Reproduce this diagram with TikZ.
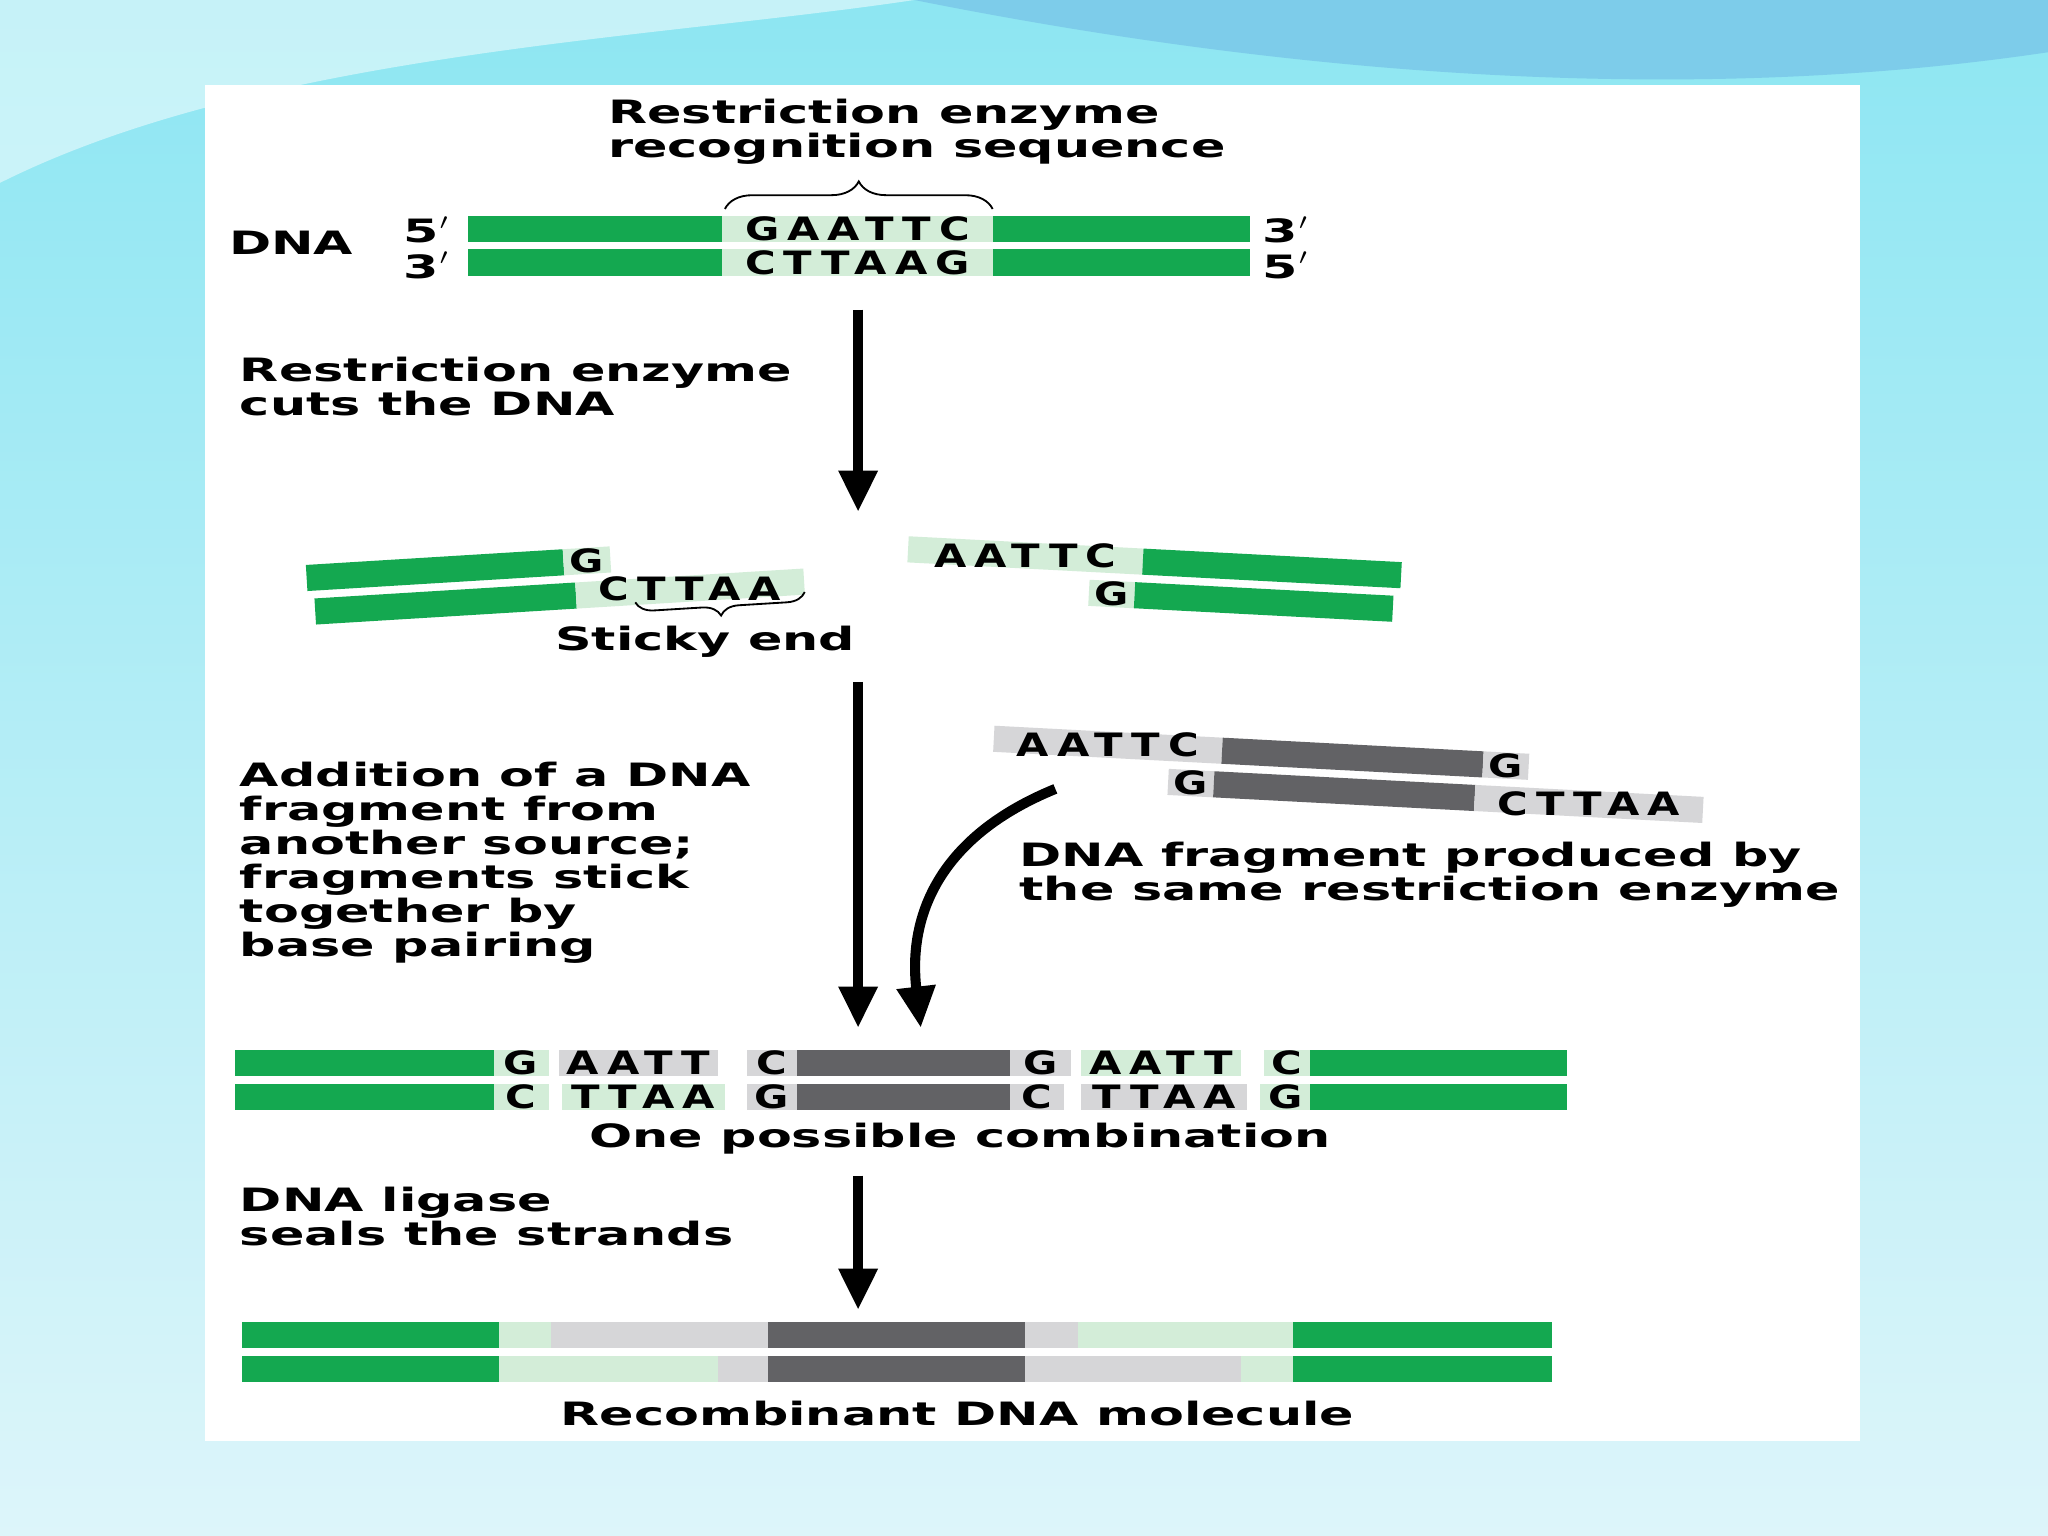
\documentclass[tikz,border=0pt]{standalone}
\usepackage{fontspec}
\setmainfont{DejaVu Sans}[FakeStretch=1.58]
\newfontfamily\seqfont{DejaVu Sans}[FakeStretch=1.3,LetterSpace=25]
\usetikzlibrary{arrows.meta,decorations.pathreplacing}
\definecolor{dgreen}{HTML}{14A850}
\definecolor{lgreen}{HTML}{D3EDD8}
\definecolor{lgray}{HTML}{D6D6D8}
\definecolor{dgray}{HTML}{626265}
\definecolor{bgtop}{HTML}{8DE6F2}
\definecolor{bgbot}{HTML}{DDF5FA}
\definecolor{wave}{HTML}{7DCCEA}
\tikzset{
  lab/.style={font=\bfseries\fontsize{7}{7.4}\selectfont, inner sep=0pt, align=left},
  seqtxt/.style={font=\seqfont\bfseries\fontsize{7}{7}\selectfont, inner sep=0pt},
  stage/.style={line width=2.2pt, -{Triangle[length=9pt,width=8pt]}},
}
% segment: x1 y x2 colour
\newcommand\seg[4]{\fill[#4] (#1,#2) rectangle (#3,{#2+20});}
% letter box: x1 y x2 colour text
\newcommand\lbox[5]{\fill[#4] (#1,#2) rectangle (#3,{#2+20});
  \node[seqtxt] at ({(#1+#3)/2},{#2+10}) {#5};}
\begin{document}
\begin{tikzpicture}[x=0.01cm,y=-0.01cm]
\useasboundingbox (0,0) rectangle (1568,1176);
% background
\shade[top color=bgtop,bottom color=bgbot] (0,0) rectangle (1568,1176);
\fill[white,opacity=.5] (0,140) .. controls (200,40) and (500,30) .. (700,0) -- (0,0) -- cycle;
\fill[wave] (700,0) .. controls (1000,60) and (1300,80) .. (1568,40) -- (1568,0) -- cycle;
\fill[white] (157,65) rectangle (1424,1103);

% top: recognition sequence
\node[lab,align=left] (title) at (702,101) {Restriction enzyme\\recognition sequence};
\draw[decorate,decoration={brace,amplitude=6pt}] (555,160) -- (760,160);
\node[lab] (dna) at (223,186) {DNA};
\node[lab] (p5a) at (327,176) {5$'$};
\node[lab] (p3a) at (327,203) {3$'$};
\node[lab] (p3b) at (985,176) {3$'$};
\node[lab] (p5b) at (985,203) {5$'$};
\seg{358}{165}{553}{dgreen}
\lbox{553}{165}{760}{lgreen}{GAATTC}
\seg{760}{165}{957}{dgreen}
\seg{358}{191}{553}{dgreen}
\lbox{553}{191}{760}{lgreen}{CTTAAG}
\seg{760}{191}{957}{dgreen}

\coordinate (a1s) at (657,237);
\coordinate (a1e) at (657,392);
\draw[stage] (a1s) -- (a1e);
\node[lab,anchor=north west] (cut) at (183,273) {Restriction enzyme\\cuts the DNA};

% cut fragments
\begin{scope}[rotate around={3.5:(440,440)}]
\seg{235}{420}{432}{dgreen}
\lbox{432}{420}{468}{lgreen}{G}
\seg{240}{446}{440}{dgreen}
\lbox{440}{446}{615}{lgreen}{CTTAA}
\draw[decorate,decoration={brace,amplitude=4pt,mirror}] (485,464) -- (615,464);
\end{scope}
\node[lab] (sticky) at (540,491) {Sticky end};
\begin{scope}[rotate around={-3:(875,430)}]
\lbox{695}{420}{875}{lgreen}{AATTC}
\seg{875}{420}{1073}{dgreen}
\lbox{835}{446}{870}{lgreen}{G}
\seg{870}{446}{1068}{dgreen}
\end{scope}

\coordinate (a2s) at (657,522);
\coordinate (a2e) at (657,787);
\draw[stage] (a2s) -- (a2e);
\node[lab,anchor=north west] (add) at (183,583) {Addition of a DNA\\fragment from\\another source;\\fragments stick\\together by\\base pairing};

% foreign fragment
\begin{scope}[rotate around={-3:(1035,590)}]
\lbox{760}{570}{935}{lgray}{AATTC}
\seg{935}{570}{1135}{dgray}
\lbox{1135}{570}{1170}{lgray}{G}
\lbox{895}{596}{930}{lgray}{G}
\seg{930}{596}{1130}{dgray}
\lbox{1130}{596}{1305}{lgray}{CTTAA}
\end{scope}
\node[lab,anchor=north west] (frag) at (780,644) {DNA fragment produced by\\the same restriction enzyme};
\coordinate (a3s) at (808,604);
\coordinate (a3e) at (705,787);
\draw[stage] (a3s) .. controls (720,640) and (695,700) .. (a3e);

% combination
\seg{180}{804}{378}{dgreen}
\lbox{378}{804}{420}{lgreen}{G}
\lbox{428}{804}{550}{lgray}{AATT}
\lbox{572}{804}{610}{lgray}{C}
\seg{610}{804}{773}{dgray}
\lbox{773}{804}{820}{lgray}{G}
\lbox{828}{804}{950}{lgreen}{AATT}
\lbox{968}{804}{1003}{lgreen}{C}
\seg{1003}{804}{1200}{dgreen}
\seg{180}{830}{378}{dgreen}
\lbox{378}{830}{420}{lgreen}{C}
\lbox{430}{830}{555}{lgreen}{TTAA}
\lbox{572}{830}{610}{lgray}{G}
\seg{610}{830}{773}{dgray}
\lbox{773}{830}{815}{lgray}{C}
\lbox{828}{830}{955}{lgray}{TTAA}
\lbox{965}{830}{1003}{lgreen}{G}
\seg{1003}{830}{1200}{dgreen}
\node[lab] (comb) at (735,872) {One possible combination};

\coordinate (a4s) at (657,900);
\coordinate (a4e) at (657,1003);
\draw[stage] (a4s) -- (a4e);
\node[lab,anchor=north west] (lig) at (183,908) {DNA ligase\\seals the strands};

% recombinant molecule
\seg{185}{1012}{382}{dgreen}
\seg{382}{1012}{422}{lgreen}
\seg{422}{1012}{588}{lgray}
\seg{588}{1012}{785}{dgray}
\seg{785}{1012}{825}{lgray}
\seg{825}{1012}{990}{lgreen}
\seg{990}{1012}{1188}{dgreen}
\seg{185}{1038}{382}{dgreen}
\seg{382}{1038}{550}{lgreen}
\seg{550}{1038}{588}{lgray}
\seg{588}{1038}{785}{dgray}
\seg{785}{1038}{950}{lgray}
\seg{950}{1038}{990}{lgreen}
\seg{990}{1038}{1188}{dgreen}
\node[lab] (recomb) at (733,1082) {Recombinant DNA molecule};
\end{tikzpicture}
\end{document}
